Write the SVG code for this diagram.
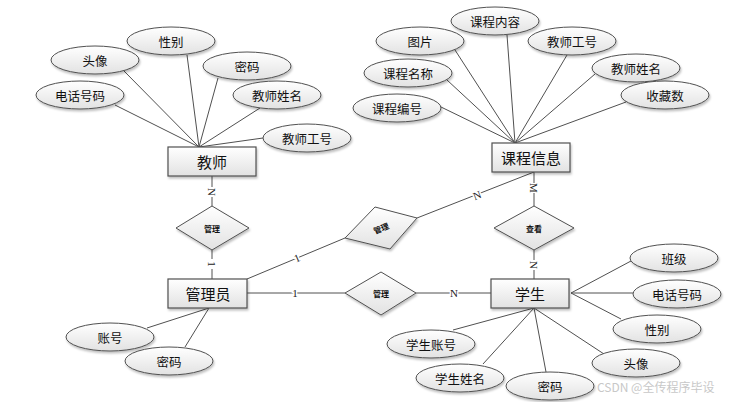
<svg xmlns="http://www.w3.org/2000/svg" width="736" height="402" viewBox="0 0 736 402">
<defs>
<linearGradient id="g" x1="0" y1="0" x2="0" y2="1">
<stop offset="0" stop-color="#ffffff"/>
<stop offset="1" stop-color="#e2e2e2"/>
</linearGradient>
<filter id="sh" x="-20%" y="-20%" width="140%" height="150%">
<feDropShadow dx="1" dy="2" stdDeviation="1" flood-color="#000" flood-opacity="0.25"/>
</filter>
</defs>
<style>
.e{fill:url(#g);stroke:#505050;stroke-width:1;filter:url(#sh)}
.b{fill:url(#g);stroke:#505050;stroke-width:1.2;filter:url(#sh)}
.d{fill:url(#g);stroke:#505050;stroke-width:1;filter:url(#sh)}
.t{font-family:"Noto Sans CJK SC","Noto Sans",sans-serif;font-size:12.5px;fill:#111;text-anchor:middle;dominant-baseline:central}
.bt{font-family:"Noto Sans CJK SC","Noto Sans",sans-serif;font-size:15px;fill:#111;text-anchor:middle;dominant-baseline:central}
.dt{font-family:"Noto Sans CJK SC","Noto Sans",sans-serif;font-size:8px;font-weight:bold;fill:#111;text-anchor:middle;dominant-baseline:central}
.m{font-family:"Liberation Serif",serif;font-size:11px;fill:#222;text-anchor:middle;dominant-baseline:central}
.l{stroke:#505050;stroke-width:1;fill:none}
.w{font-family:"Noto Sans CJK SC","Noto Sans",sans-serif;font-size:12px;fill:#c8c8c8}
</style>
<rect width="736" height="402" fill="#fff"/>
<g id="connectors">
<line class="l" x1="199" y1="147" x2="115" y2="105"/>
<line class="l" x1="199" y1="147" x2="124" y2="71"/>
<line class="l" x1="199" y1="147" x2="187" y2="55"/>
<line class="l" x1="199" y1="147" x2="218" y2="78"/>
<line class="l" x1="199" y1="147" x2="260" y2="108"/>
<line class="l" x1="199" y1="147" x2="263" y2="138"/>
<line class="l" x1="515" y1="143" x2="441" y2="107"/>
<line class="l" x1="515" y1="143" x2="447" y2="80"/>
<line class="l" x1="515" y1="143" x2="455" y2="50"/>
<line class="l" x1="515" y1="143" x2="507" y2="35"/>
<line class="l" x1="515" y1="143" x2="567" y2="55"/>
<line class="l" x1="515" y1="143" x2="595" y2="74"/>
<line class="l" x1="515" y1="143" x2="626" y2="102"/>
<line class="l" x1="212" y1="176" x2="212" y2="206"/>
<line class="l" x1="212" y1="250" x2="212" y2="279"/>
<line class="l" x1="247" y1="279" x2="345" y2="238"/>
<line class="l" x1="417" y1="218" x2="534" y2="172"/>
<line class="l" x1="534" y1="172" x2="534" y2="206"/>
<line class="l" x1="534" y1="250" x2="534" y2="279"/>
<line class="l" x1="247" y1="293" x2="345" y2="293"/>
<line class="l" x1="416" y1="293" x2="491" y2="293"/>
<line class="l" x1="209" y1="308" x2="147" y2="328"/>
<line class="l" x1="209" y1="308" x2="185" y2="347"/>
<line class="l" x1="571" y1="293" x2="631" y2="261"/>
<line class="l" x1="571" y1="293" x2="633" y2="293"/>
<line class="l" x1="571" y1="293" x2="621" y2="319"/>
<line class="l" x1="534" y1="308" x2="453" y2="330"/>
<line class="l" x1="534" y1="308" x2="483" y2="364"/>
<line class="l" x1="534" y1="308" x2="546" y2="372"/>
<line class="l" x1="534" y1="308" x2="604" y2="354"/>
<g>
<rect x="206" y="187" width="12" height="10" fill="#fff"/>
<text class="m" transform="translate(212,192) rotate(90)">N</text>
<rect x="206" y="259" width="12" height="10" fill="#fff"/>
<text class="m" transform="translate(212,264) rotate(90)">1</text>
<rect x="528" y="183" width="12" height="10" fill="#fff"/>
<text class="m" transform="translate(534,188) rotate(90)">M</text>
<rect x="528" y="260" width="12" height="10" fill="#fff"/>
<text class="m" transform="translate(534,265) rotate(90)">N</text>
<text class="m" transform="translate(297,258) rotate(-23)" stroke="#fff" stroke-width="3" paint-order="stroke">1</text>
<text class="m" transform="translate(477,195) rotate(-21)" stroke="#fff" stroke-width="3" paint-order="stroke">N</text>
<text class="m" x="295" y="293" stroke="#fff" stroke-width="3" paint-order="stroke">1</text>
<text class="m" x="454" y="293" stroke="#fff" stroke-width="3" paint-order="stroke">N</text>
</g>
</g>
<g id="teacher"><rect class="b" x="168" y="147" width="88" height="29"/><text class="bt" x="212" y="161.5">教师</text></g>
<g id="course"><rect class="b" x="492" y="143" width="78" height="29"/><text class="bt" x="531" y="157.5">课程信息</text></g>
<g id="admin"><rect class="b" x="168" y="279" width="79" height="29"/><text class="bt" x="208" y="293.5">管理员</text></g>
<g id="student"><rect class="b" x="491" y="279" width="78" height="29"/><text class="bt" x="530" y="293.5">学生</text></g>
<g id="rel-teacher-admin"><polygon class="d" points="212,206 249,228 212,250 176,228"/><text class="dt" x="212" y="228">管理</text></g>
<g id="rel-admin-course"><polygon class="d" points="375,207 417,218 390,249 345,238"/><text class="dt" transform="translate(381,228) rotate(-22)" font-weight="normal" fill="#555">管理</text></g>
<g id="rel-admin-student"><polygon class="d" points="381,272 416,293 381,315 345,293"/><text class="dt" x="381" y="293">管理</text></g>
<g id="rel-student-course"><polygon class="d" points="534,206 574,228 534,250 494,228"/><text class="dt" x="534" y="228">查看</text></g>
<g id="t-phone"><ellipse class="e" cx="80" cy="95" rx="44" ry="14"/><text class="t" x="80" y="95">电话号码</text></g>
<g id="t-avatar"><ellipse class="e" cx="95" cy="60" rx="44" ry="14"/><text class="t" x="95" y="60">头像</text></g>
<g id="t-gender"><ellipse class="e" cx="171" cy="41" rx="44" ry="14"/><text class="t" x="171" y="41">性别</text></g>
<g id="t-pwd"><ellipse class="e" cx="247" cy="66" rx="44" ry="14"/><text class="t" x="247" y="66">密码</text></g>
<g id="t-name"><ellipse class="e" cx="277" cy="95" rx="44" ry="14"/><text class="t" x="277" y="95">教师姓名</text></g>
<g id="t-id"><ellipse class="e" cx="307" cy="138" rx="44" ry="14"/><text class="t" x="307" y="138">教师工号</text></g>
<g id="c-content"><ellipse class="e" cx="495" cy="21" rx="44" ry="14"/><text class="t" x="495" y="21">课程内容</text></g>
<g id="c-pic"><ellipse class="e" cx="420" cy="41" rx="44" ry="14"/><text class="t" x="420" y="41">图片</text></g>
<g id="c-tid"><ellipse class="e" cx="572" cy="41" rx="44" ry="14"/><text class="t" x="572" y="41">教师工号</text></g>
<g id="c-tname"><ellipse class="e" cx="636" cy="68" rx="44" ry="14"/><text class="t" x="636" y="68">教师姓名</text></g>
<g id="c-name"><ellipse class="e" cx="408" cy="73" rx="44" ry="14"/><text class="t" x="408" y="73">课程名称</text></g>
<g id="c-fav"><ellipse class="e" cx="665" cy="95" rx="44" ry="14"/><text class="t" x="665" y="95">收藏数</text></g>
<g id="c-no"><ellipse class="e" cx="397" cy="108" rx="44" ry="14"/><text class="t" x="397" y="108">课程编号</text></g>
<g id="a-acc"><ellipse class="e" cx="110" cy="337" rx="44" ry="14"/><text class="t" x="110" y="337">账号</text></g>
<g id="a-pwd"><ellipse class="e" cx="169" cy="361" rx="44" ry="14"/><text class="t" x="169" y="361">密码</text></g>
<g id="s-class"><ellipse class="e" cx="674" cy="258" rx="44" ry="14"/><text class="t" x="674" y="258">班级</text></g>
<g id="s-phone"><ellipse class="e" cx="677" cy="294" rx="44" ry="14"/><text class="t" x="677" y="294">电话号码</text></g>
<g id="s-gender"><ellipse class="e" cx="657" cy="329" rx="44" ry="14"/><text class="t" x="657" y="329">性别</text></g>
<g id="s-avatar"><ellipse class="e" cx="636" cy="363" rx="44" ry="14"/><text class="t" x="636" y="363">头像</text></g>
<g id="s-acc"><ellipse class="e" cx="431" cy="344" rx="44" ry="14"/><text class="t" x="431" y="344">学生账号</text></g>
<g id="s-name"><ellipse class="e" cx="460" cy="378" rx="44" ry="14"/><text class="t" x="460" y="378">学生姓名</text></g>
<g id="s-pwd"><ellipse class="e" cx="550" cy="386" rx="44" ry="14"/><text class="t" x="550" y="386">密码</text></g>
<text class="w" x="597" y="392">CSDN @全传程序毕设</text>
</svg>
